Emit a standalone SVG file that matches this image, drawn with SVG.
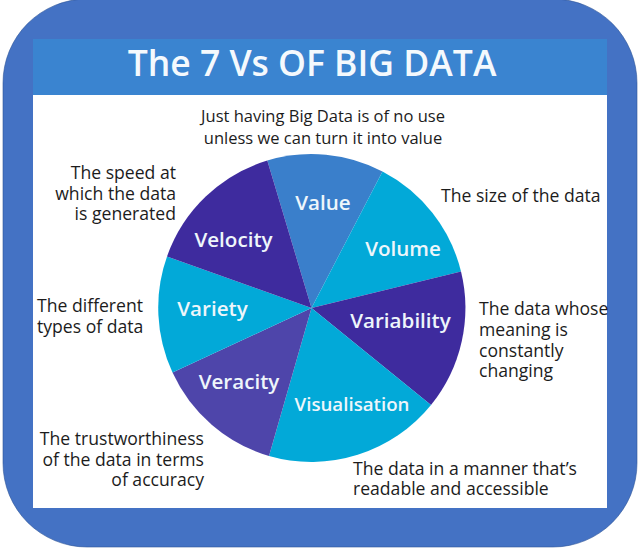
<svg xmlns="http://www.w3.org/2000/svg" width="640" height="557" viewBox="0 0 640 557">
<style>
text{font-family:"Open Sans","Noto Sans","Liberation Sans",sans-serif}
.l{font-size:17.6px;fill:#1c1c1c;-webkit-text-stroke:.25px #1c1c1c}
.t{font-size:16.5px}
.w{font-size:20.6px;fill:#eef6fb;font-weight:600;text-anchor:middle}
.m{text-anchor:middle}.e{text-anchor:end}
</style>
<rect width="640" height="557" fill="#fff"/>
<rect id="frame" x="3" y="-1" width="634" height="548" rx="84" ry="84" fill="#4472c4" stroke="#2f5597" stroke-width=".6"/>
<rect id="body" x="33" y="95" width="574" height="413" fill="#fff"/>
<g id="header"><rect x="33" y="39" width="574" height="56" fill="#3a84d0"/>
<text x="312" y="76" class="m" font-size="35.5" font-weight="600" fill="#f4f9fd">The 7 Vs OF BIG DATA</text></g>
<g id="pie">
<g id="value"><path d="M311.5 308L267.3 160.5A154 154 0 0 1 382.5 171.5Z" fill="#3a7fcb"/><text x="323" y="210" class="w">Value</text></g>
<g id="volume"><path d="M311.5 308L382.5 171.5A154 154 0 0 1 461 271.5Z" fill="#02a9d8"/><text x="403" y="256" class="w">Volume</text></g>
<g id="variability"><path d="M311.5 308L461 271.5A154 154 0 0 1 431 405Z" fill="#3e2b9e"/><text x="400.500" y="328" class="w">Variability</text></g>
<g id="visualisation"><path d="M311.5 308L431 405A154 154 0 0 1 269 456Z" fill="#02a9d8"/><text x="352" y="411" class="w" style="font-size:18.700px">Visualisation</text></g>
<g id="veracity"><path d="M311.5 308L269 456A154 154 0 0 1 172.500 372.500Z" fill="#4e45aa"/><text x="239" y="389" class="w">Veracity</text></g>
<g id="variety"><path d="M311.5 308L172.500 372.500A154 154 0 0 1 167 256.500Z" fill="#02a9d8"/><text x="212.500" y="316" class="w">Variety</text></g>
<g id="velocity"><path d="M311.5 308L167 256.500A154 154 0 0 1 267.300 160.500Z" fill="#3e2b9e"/><text x="233.500" y="247" class="w">Velocity</text></g>
</g>
<g id="labels" class="l">
<text class="l m t" x="323" y="122">Just having Big Data is of no use</text>
<text class="l m t" x="323" y="144">unless we can turn it into value</text>
<text class="l e" x="176" y="179">The speed at</text>
<text class="l e" x="176" y="200">which the data</text>
<text class="l e" x="176" y="220">is generated</text>
<text class="l" x="441" y="202">The size of the data</text>
<text class="l" x="37" y="312">The different</text>
<text class="l" x="37" y="333">types of data</text>
<text class="l" x="479" y="315">The data whose</text>
<text class="l" x="479" y="336">meaning is</text>
<text class="l" x="479" y="357">constantly</text>
<text class="l" x="479" y="377">changing</text>
<text class="l e" x="204" y="445">The trustworthiness</text>
<text class="l e" x="204" y="466">of the data in terms</text>
<text class="l e" x="204" y="486">of accuracy</text>
<text class="l" x="353" y="475">The data in a manner that’s</text>
<text class="l" x="353" y="495">readable and accessible</text>
</g>
</svg>
